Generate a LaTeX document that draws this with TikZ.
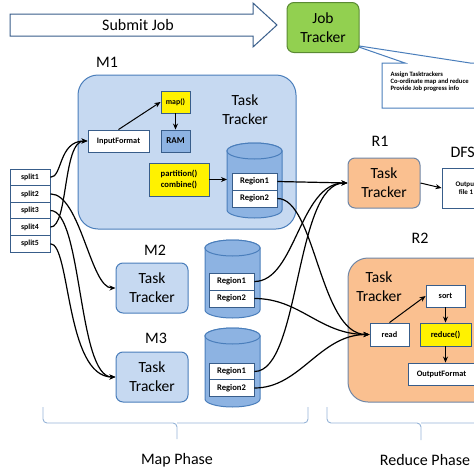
\documentclass[tikz,border=0pt]{standalone}
\usepackage{fontspec}
\setmainfont{Carlito}
\usetikzlibrary{arrows.meta}

\definecolor{mapblue}{HTML}{C6D9F1}
\definecolor{drumblue}{HTML}{8DB3E2}
\definecolor{edgeblue}{HTML}{4A7EBB}
\definecolor{darkedge}{HTML}{385D8A}
\definecolor{jobgreen}{HTML}{92D050}
\definecolor{jobedge}{HTML}{5A8A32}
\definecolor{redorange}{HTML}{FAC090}
\definecolor{rededge}{HTML}{6F86A6}
\definecolor{bracecol}{HTML}{95B3D7}

% database drum: centre x, half width, top, bottom
\newcommand\drawdrum[4]{%
  \filldraw[drum] (#1-#2,#3+8) -- (#1-#2,#4-8)
    arc[start angle=180, end angle=360, x radius=#2pt, y radius=8pt]
    -- (#1+#2,#3+8)
    arc[start angle=0, end angle=180, x radius=#2pt, y radius=8pt] -- cycle;
  \draw[drum] (#1,#3+8) ellipse[x radius=#2pt, y radius=8pt];
}

\begin{document}
\begin{tikzpicture}[x=1pt,y=-1pt,
    >={Stealth[length=6pt,width=5pt]},
    tracker/.style={draw=edgeblue, line width=1pt, fill=mapblue, rounded corners=7pt,
      minimum width=72pt, minimum height=50pt, align=center,
      font=\fontsize{15.5}{19}\selectfont},
    smallbox/.style={draw=darkedge, line width=0.9pt, fill=white, inner sep=0pt,
      font=\fontsize{8.3}{10}\bfseries},
    yellowbox/.style={smallbox, fill=yellow},
    splitbox/.style={smallbox, minimum width=40pt, minimum height=16.6pt,
      font=\fontsize{7.8}{9}\bfseries},
    regionbox/.style={smallbox, minimum width=45pt, minimum height=17pt,
      font=\fontsize{8.6}{9}\bfseries},
    drum/.style={draw=edgeblue, fill=drumblue, line width=1pt},
    title/.style={font=\fontsize{16}{18}\selectfont},
    flow/.style={->, line width=1.2pt},
    bracket/.style={draw=bracecol, line width=0.9pt, rounded corners=4pt}
]
\useasboundingbox (0,0) rectangle (474,474);
\clip (0,0) rectangle (474,474);

% Submit job arrow
\filldraw[draw=darkedge, fill=white, line width=1pt]
  (10,14) -- (253,14) -- (253,3) -- (277,25) -- (253,47) -- (253,36) -- (10,36) -- cycle;
\node[title] (submit) at (138,25) {Submit Job};

% Job tracker and its note
\filldraw[draw=edgeblue, fill=white, line width=1pt]
  (382,63) -- (405,63) -- (353,45) -- (470,63) -- (520,63) -- (520,108) -- (382,108) -- cycle;
\node[anchor=west, align=left, font=\fontsize{6.6}{7.2}\bfseries] (note) at (387,82)
  {Assign Tasktrackers\\Co-ordinate map and reduce\\Provide Job progress info};
\node[tracker, fill=jobgreen, draw=jobedge] (job) at (323,27.5) {Job\\Tracker};

% Map side
\node[title] (lm1) at (107,62) {M1};
\node[tracker, minimum width=218pt, minimum height=154pt, rounded corners=20pt] (m1) at (187,152) {};
\node[font=\fontsize{15.5}{19}\selectfont, align=center] (m1tt) at (245,110) {Task\\Tracker};
\node[yellowbox, minimum width=29pt, minimum height=22pt, font=\fontsize{7.8}{9}\bfseries] (map) at (175.5,102) {map()};
\node[smallbox, fill=drumblue, minimum width=29pt, minimum height=22pt, font=\fontsize{9}{10}\bfseries] (ram) at (175.5,141) {RAM};
\node[smallbox, minimum width=61pt, minimum height=22pt] (inp) at (118.5,141) {InputFormat};
\node[yellowbox, minimum width=60pt, minimum height=33pt, align=center, font=\fontsize{8.6}{11}\bfseries] (part) at (179,179.5) {partition()\\combine()};
\drawdrum{254.5}{27.5}{143}{218}
\coordinate (drum1) at (227,179.5);
\node[regionbox] (m1r1) at (254.5,181.5) {Region1};
\node[regionbox] (m1r2) at (254.5,198.5) {Region2};

\node[title] (lm2) at (155,250) {M2};
\node[tracker] (m2) at (152,288) {Task\\Tracker};
\drawdrum{232.5}{27.5}{240}{318}
\node[regionbox] (m2r1) at (231.5,281.5) {Region1};
\node[regionbox] (m2r2) at (231.5,298.5) {Region2};

\node[title] (lm3) at (156,338) {M3};
\node[tracker] (m3) at (152,377) {Task\\Tracker};
\drawdrum{232.5}{27.5}{328}{407}
\node[regionbox] (m3r1) at (231.5,371.5) {Region1};
\node[regionbox] (m3r2) at (231.5,388) {Region2};

% Input splits
\node[splitbox] (s1) at (30,177.3) {split1};
\node[splitbox] (s2) at (30,193.9) {split2};
\node[splitbox] (s3) at (30,210.5) {split3};
\node[splitbox] (s4) at (30,227.1) {split4};
\node[splitbox] (s5) at (30,243.7) {split5};

% Reduce side
\node[title] (lr1) at (380,141) {R1};
\node[tracker, fill=redorange, draw=rededge] (r1) at (384,183) {Task\\Tracker};
\node[title, anchor=west] (ldfs) at (447,152) {DFS};
\node[smallbox, minimum width=48pt, minimum height=40pt, align=center, font=\fontsize{7}{8.5}\bfseries] (dfsout) at (466,188) {Output\\file 1};

\node[title] (lr2) at (420,238) {R2};
\node[tracker, fill=redorange, draw=rededge, minimum width=162pt, minimum height=144pt, rounded corners=20pt] (r2) at (429,330) {};
\node[font=\fontsize{15.5}{19}\selectfont, align=center] (r2tt) at (379,287) {Task\\Tracker};
\node[smallbox, minimum width=39pt, minimum height=23pt] (read) at (389.5,334.5) {read};
\node[smallbox, minimum width=39pt, minimum height=22pt] (sort) at (445.5,296) {sort};
\node[yellowbox, minimum width=51pt, minimum height=23pt, font=\fontsize{8.5}{10}\bfseries] (reduce) at (445.5,334.5) {reduce()};
\node[smallbox, minimum width=67pt, minimum height=22pt] (outfmt) at (441.5,374) {OutputFormat};

% Inside the trackers
\draw[flow, line width=1pt] (inp.north) -- (map.west);
\draw[flow, line width=1pt] (map.south) -- (ram.north);
\draw[flow, line width=1pt] (part.east) -- (drum1);
\draw[flow, line width=1pt] (read.north) -- (sort.west);
\draw[flow, line width=1pt] (sort.south) -- (reduce.north);
\draw[flow, line width=1pt] (reduce.south) -- (reduce.south |- outfmt.north);
\draw[flow, line width=1pt] (r1.east) -- (dfsout.west);

% Splits to mappers
\draw[flow] (s1.east) .. controls +(12,0) and +(-29,0) .. (inp.west);
\draw[flow] (s4.east) .. controls +(18,0) and +(-25,0) .. (inp.west);
\draw[flow] (s2.east) .. controls +(30,0) and +(-25,0) .. (m2.west);
\draw[flow] (s3.east) .. controls +(32,0) and +(-38,0) .. (m3.west);
\draw[flow] (s5.east) .. controls +(20,0) and +(-50,0) .. (m3.west);

% Regions to reducers
\draw[flow] (m1r1.east) -- (r1.west);
\draw[flow] (m2r1.east) .. controls +(41,0) and +(-48,0) .. (r1.west);
\draw[flow] (m3r1.east) .. controls +(46,0) and +(-53,0) .. (r1.west);
\draw[flow] (m1r2.east) .. controls +(38,0) and +(-50,0) .. (read.west);
\draw[flow] (m2r2.east) .. controls +(46,0) and +(-50,0) .. (read.west);
\draw[flow] (m3r2.east) .. controls +(46,0) and +(-50,0) .. (read.west);

% Phase brackets
\draw[bracket] (43,407) |- (177,423) -- (177,439);
\draw[bracket] (308,407) |- (177,423);
\draw[bracket] (327,407) |- (421,423) -- (421,440);
\draw[bracket] (520,407) |- (421,423);
\node[title] (mapphase) at (177,460) {Map Phase};
\node[title] (redphase) at (425,460) {Reduce Phase};

\end{tikzpicture}
\end{document}
